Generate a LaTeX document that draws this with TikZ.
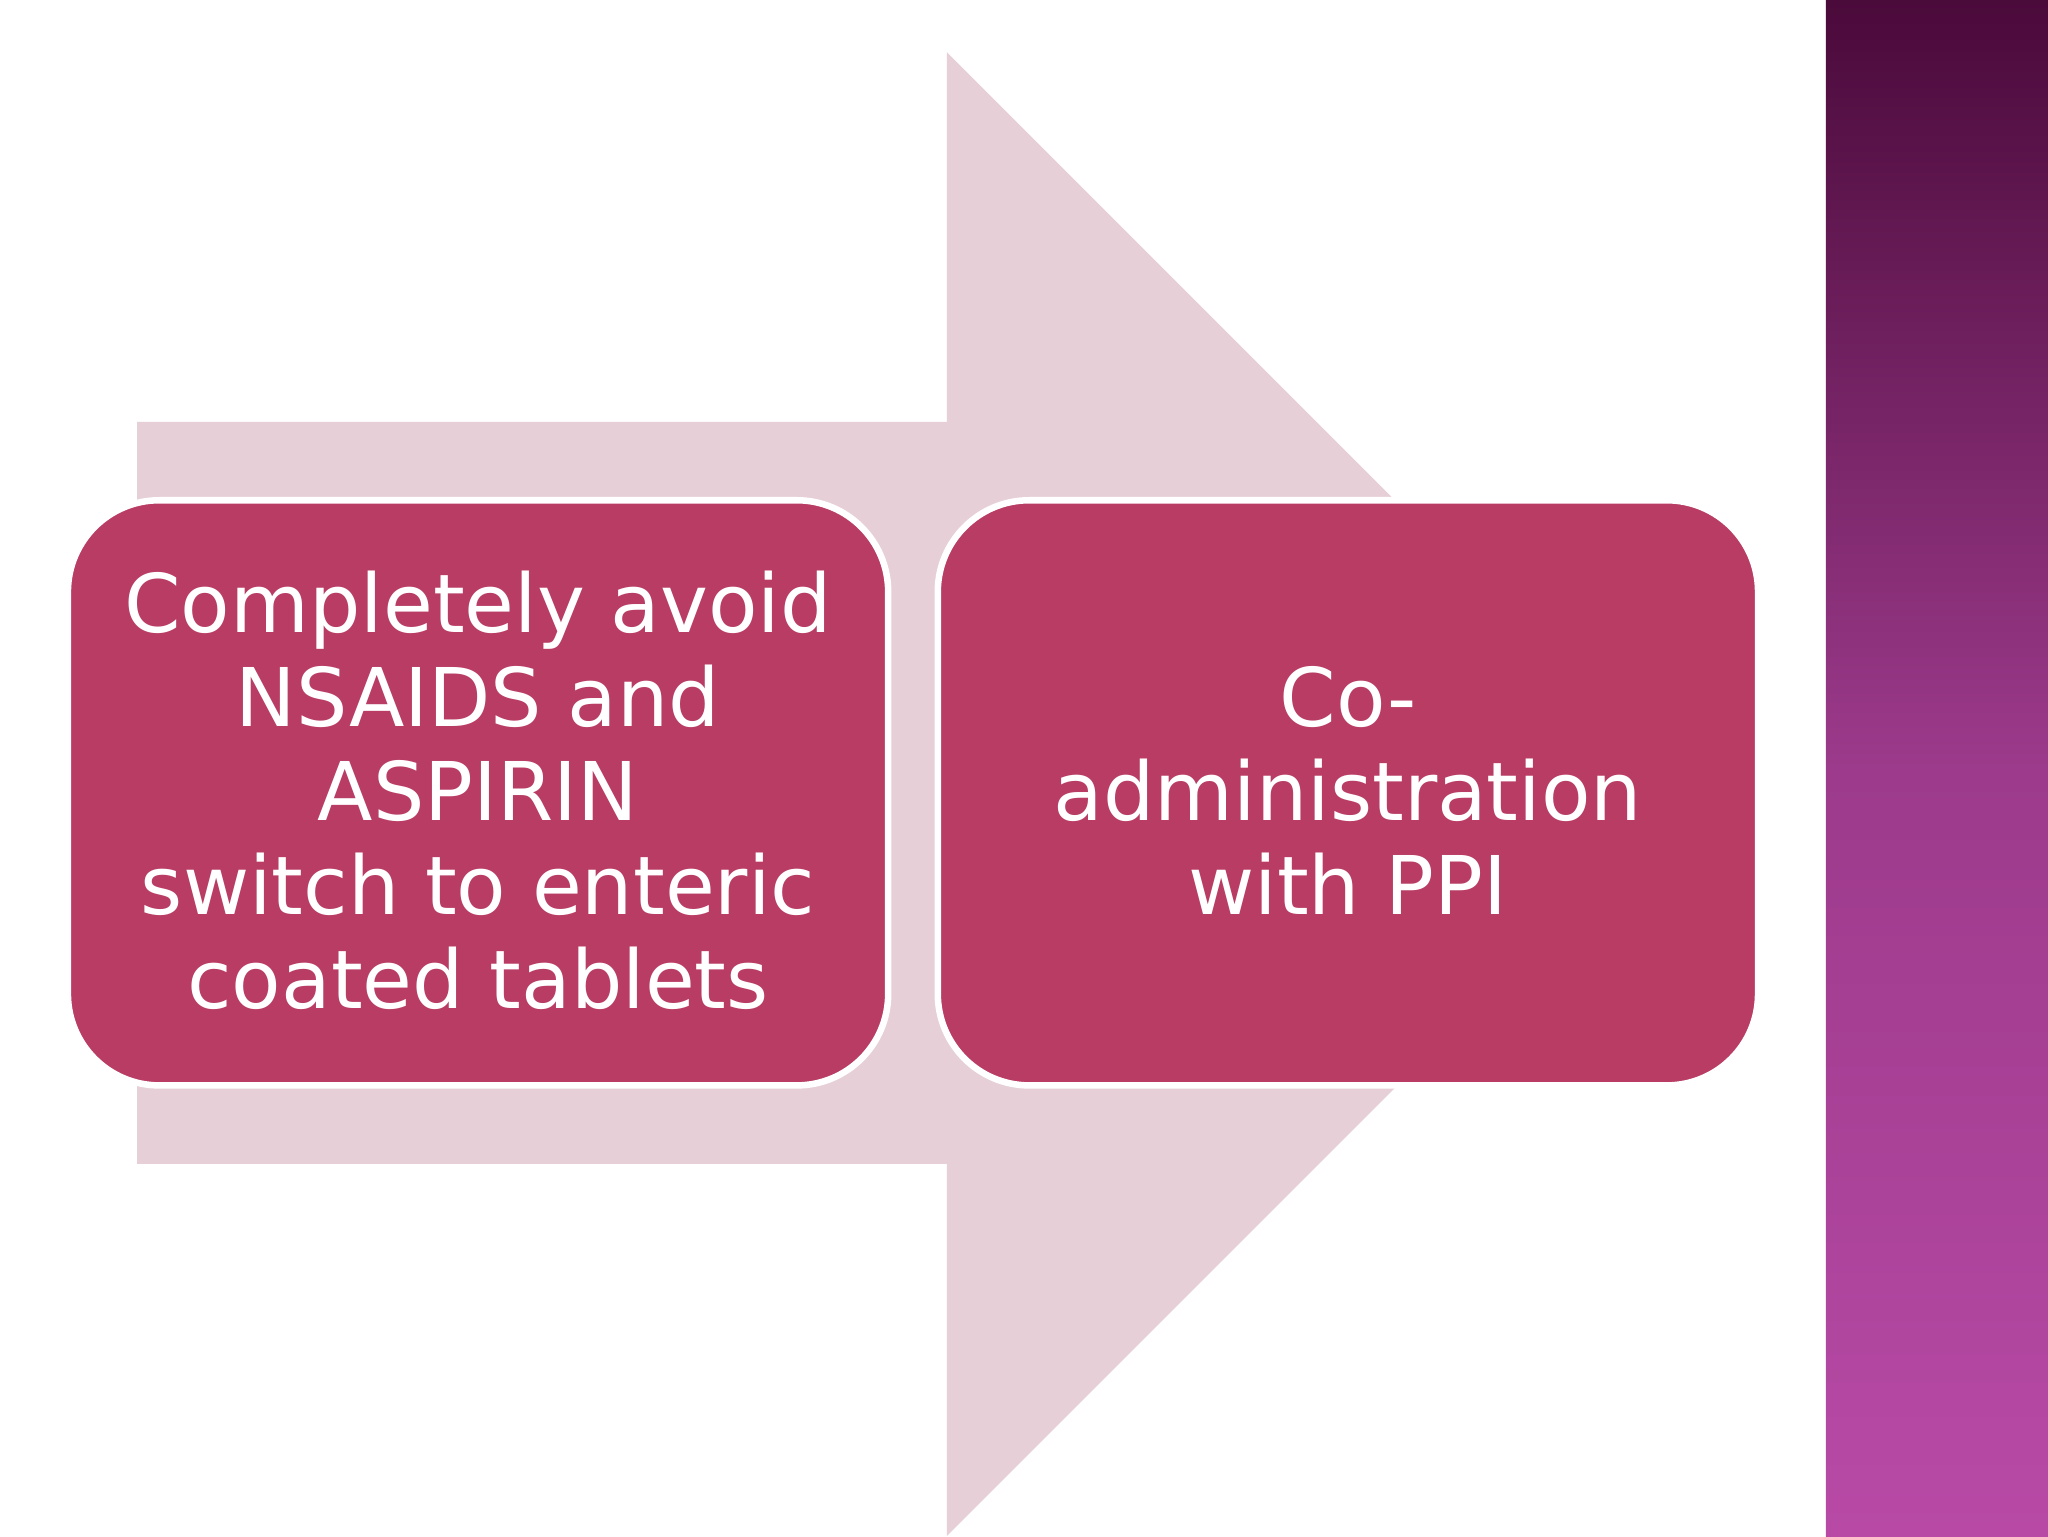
\documentclass[tikz,border=0pt]{standalone}
\usepackage{fontspec}
\setmainfont{DejaVu Sans}
\begin{document}
\begin{tikzpicture}[x=1pt,y=-1pt,
  boxst/.style={draw=white,line width=5pt,fill=boxc,rounded corners=70pt},
  txt/.style={text=white,align=center,font=\fontsize{62}{72}\selectfont}]
\definecolor{boxc}{HTML}{B83C64}
\definecolor{arrc}{HTML}{E6CFD6}
\definecolor{topc}{HTML}{4A0A3A}
\definecolor{botc}{HTML}{B84AA6}
\useasboundingbox (0,0) rectangle (1568,1176);
\fill[white] (0,0) rectangle (1568,1176);
\shade[top color=topc,bottom color=botc,middle color=botc!75!topc] (1398,0) rectangle (1568,1176);
\fill[arrc] (105,323) -- (725,323) -- (725,40) -- (1293,608) -- (725,1176) -- (725,891) -- (105,891) -- cycle;
\draw[boxst] (52,383) rectangle (680,831);
\draw[boxst] (718,383) rectangle (1346,831);
\node[txt] (a) at (366,605) {Completely avoid\\NSAIDS and\\ASPIRIN\\switch to enteric\\coated tablets};
\node[txt] (b) at (1032,605) {Co-\\administration\\with PPI};
\end{tikzpicture}
\end{document}
